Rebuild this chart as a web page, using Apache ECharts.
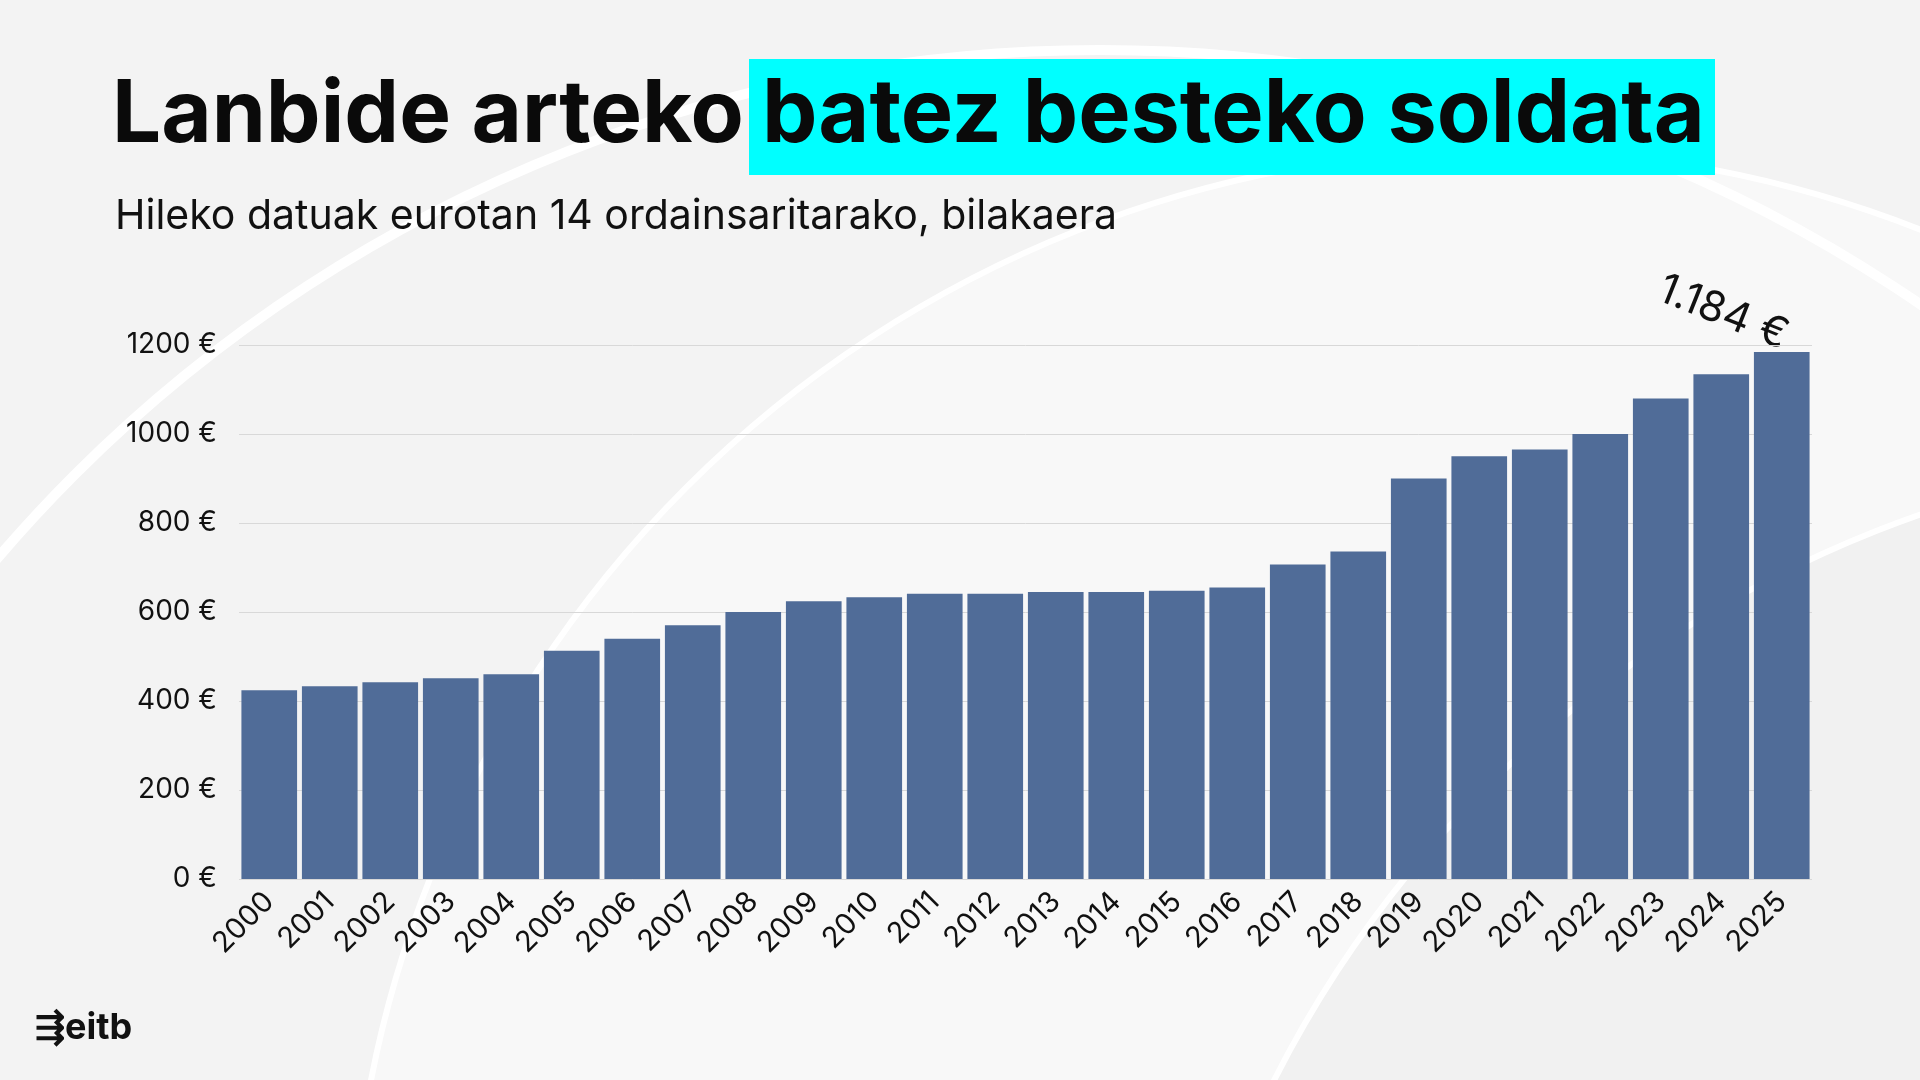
<!DOCTYPE html>
<html>
<head>
<meta charset="utf-8">
<script src="https://cdn.jsdelivr.net/npm/echarts@6/dist/echarts.min.js"></script>
<style>
  html, body { margin: 0; padding: 0; }
  #chart { width: 1920px; height: 1080px; }
</style>
</head>
<body>
<div id="chart"></div>
<script>
// urteak eta soldatak (eurotan)
var years = ['2000','2001','2002','2003','2004','2005','2006','2007','2008','2009','2010','2011','2012',
             '2013','2014','2015','2016','2017','2018','2019','2020','2021','2022','2023','2024','2025'];
var wages = [424, 433, 442, 451, 460, 513, 540, 570, 600, 624, 633, 641, 641,
             645, 645, 648, 655, 707, 736, 900, 950, 965, 1000, 1080, 1134, 1184];
var lastLabel = '1.184 €';

var chart = echarts.init(document.getElementById('chart'));
var font = 'Inter, "Noto Sans", sans-serif';

var option = {
  backgroundColor: '#f3f3f3',
  graphic: [
    { type: 'circle', shape: { cx: 1500, cy: 1300, r: 1150 }, style: { fill: '#f8f8f8', stroke: '#ffffff', lineWidth: 6 }, z: -10 },
    { type: 'circle', shape: { cx: 2300, cy: 1600, r: 1150 }, style: { fill: '#f1f1f1', stroke: '#ffffff', lineWidth: 6 }, z: -9 },
    { type: 'circle', shape: { cx: 1100, cy: 1500, r: 1450 }, style: { fill: 'none', stroke: '#ffffff', lineWidth: 10 }, z: -8 },
    { type: 'rect', shape: { x: 749, y: 59, width: 966, height: 116 }, style: { fill: '#00ffff' } },
    { type: 'text', left: 112, top: 72, style: { text: 'Lanbide arteko', font: 'bold 87px ' + font, fill: '#0a0a0a' } },
    { type: 'text', left: 762, top: 72, style: { text: 'batez besteko soldata', font: 'bold 88px ' + font, fill: '#0a0a0a' } },
    { type: 'text', left: 115, top: 196, style: { text: 'Hileko datuak eurotan 14 ordainsaritarako, bilakaera', font: '41px ' + font, fill: '#111' } },
    { type: 'text', x: 1668, y: 268, rotation: -0.38, style: { text: lastLabel, font: '42px ' + font, fill: '#111' } },
    { type: 'text', left: 35, top: 1010, style: { text: '⇶eitb', font: 'bold 36px ' + font, fill: '#111' } }
  ],
  grid: { left: 239, right: 108, top: 345, bottom: 201 },
  xAxis: {
    type: 'category',
    data: years,
    axisTick: { show: false },
    axisLine: { show: false },
    axisLabel: { rotate: 45, fontSize: 29, fontFamily: font, color: '#111', margin: 18, interval: 0 }
  },
  yAxis: {
    type: 'value',
    min: 0, max: 1200, interval: 200,
    axisLabel: { formatter: function (v) { return v + ' €'; }, fontSize: 28, fontFamily: font, color: '#111', margin: 22 },
    splitLine: { lineStyle: { color: '#d8d8d8', width: 1 } }
  },
  series: [{
    type: 'bar',
    data: wages,
    barCategoryGap: '8%',
    itemStyle: { color: '#506c98' }
  }]
};
chart.setOption(option);
</script>
</body>
</html>
